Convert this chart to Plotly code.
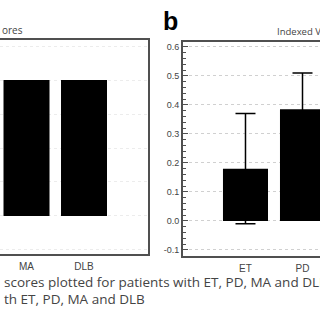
import plotly.graph_objects as go

W, H = 320, 320
categories = ["ET", "PD", "MA", "DLB"]

# Panel a (scores) - only MA and DLB visible
a_cats = ["MA", "DLB"]
a_vals = [4.0, 4.0]

# Panel b (Indexed V...)
b_cats = ["ET", "PD"]
b_vals = [0.18, 0.385]
b_err_plus = [0.19, 0.125]
b_err_minus = [0.19, 0.125]

b_ticks = [-0.1, 0.0, 0.1, 0.2, 0.3, 0.4, 0.5, 0.6]
b_ticklabels = ["-0.1", "0.0", "0.1", "0.2", "0.3", "0.4", "0.5", "0.6"]

title_a = "ores"
title_b = "Indexed V"
caption_lines = ["scores plotted for patients with ET, PD, MA and DLB",
                 "th ET, PD, MA and DLB"]

def px(x):
    return x / W

def py(y):
    return 1 - y / H

fig = go.Figure()
fig.add_trace(go.Bar(x=a_cats, y=a_vals, marker=dict(color="black", line=dict(color="black", width=0)),
                     width=0.8, xaxis="x", yaxis="y", showlegend=False))
fig.add_trace(go.Bar(x=b_cats, y=b_vals, marker=dict(color="black", line=dict(color="black", width=0)),
                     width=0.79, xaxis="x2", yaxis="y2", showlegend=False,
                     error_y=dict(type="data", array=b_err_plus, arrayminus=b_err_minus,
                                  color="black", thickness=1.5, width=10)))

axis_line = "#505050"
tickfont = dict(family="Liberation Sans, Arial", size=9, color="#444")

fig.update_layout(
    width=W, height=H, margin=dict(l=0, r=0, t=0, b=0),
    paper_bgcolor="white", plot_bgcolor="white",
    bargap=0.2,
    xaxis=dict(domain=[0, px(148)], type="category", categoryorder="array", categoryarray=categories,
               range=[1.539, 4.113], showline=True, mirror=True, linecolor=axis_line, linewidth=2,
               ticks="", showgrid=False, tickfont=dict(family="Liberation Sans, Arial", size=10, color="#444"),
               ticklabelstandoff=2),
    yaxis=dict(domain=[py(254), py(40)], range=[-1.12, 5.18], side="right", showline=True,
               linecolor=axis_line, linewidth=2, showticklabels=False, ticks="",
               dtick=1, tick0=0, showgrid=True, gridcolor="#ececec", griddash="dot", gridwidth=1,
               zeroline=False),
    xaxis2=dict(domain=[px(183), 1], type="category", categoryorder="array", categoryarray=categories,
                range=[-1.096, 1.307], showline=True, mirror=True, linecolor=axis_line, linewidth=2,
                ticks="", showgrid=False, anchor="y2",
                tickfont=dict(family="Liberation Sans, Arial", size=10, color="#444"),
                ticklabelstandoff=2),
    yaxis2=dict(domain=[py(256), py(42)], range=[-0.121, 0.617], anchor="x2", showline=True,
                linecolor=axis_line, linewidth=2, mirror=False,
                tickvals=b_ticks, ticktext=b_ticklabels, ticks="inside", ticklen=5,
                tickcolor=axis_line, tickwidth=1, tickfont=tickfont,
                minor=dict(ticks="inside", ticklen=3, dtick=0.02, tick0=0, tickcolor=axis_line,
                           showgrid=False),
                showgrid=True, gridcolor="#d0d0d0", griddash="dot", gridwidth=1, zeroline=False),
)

ann = []
ann.append(dict(text="<b>b</b>", x=px(170.5), y=py(21), xref="paper", yref="paper",
                showarrow=False, font=dict(family="Liberation Sans, Arial", size=25, color="black"),
                xanchor="center", yanchor="middle"))
ann.append(dict(text=title_b, x=px(275), y=py(32), xref="paper", yref="paper",
                showarrow=False, font=dict(family="Open Sans", size=9.5, color="#444"),
                xanchor="left", yanchor="middle"))
ann.append(dict(text=title_a, x=px(0), y=py(30), xref="paper", yref="paper",
                showarrow=False, font=dict(family="Open Sans", size=10, color="#444"),
                xanchor="left", yanchor="middle"))
ann.append(dict(text=caption_lines[0], x=px(2), y=py(282), xref="paper", yref="paper",
                showarrow=False, font=dict(family="Open Sans", size=13.5, color="#444"),
                xanchor="left", yanchor="middle"))
ann.append(dict(text=caption_lines[1], x=px(2), y=py(299), xref="paper", yref="paper",
                showarrow=False, font=dict(family="Open Sans", size=13.5, color="#444"),
                xanchor="left", yanchor="middle"))
fig.update_layout(annotations=ann)

fig.write_html("out.html")
